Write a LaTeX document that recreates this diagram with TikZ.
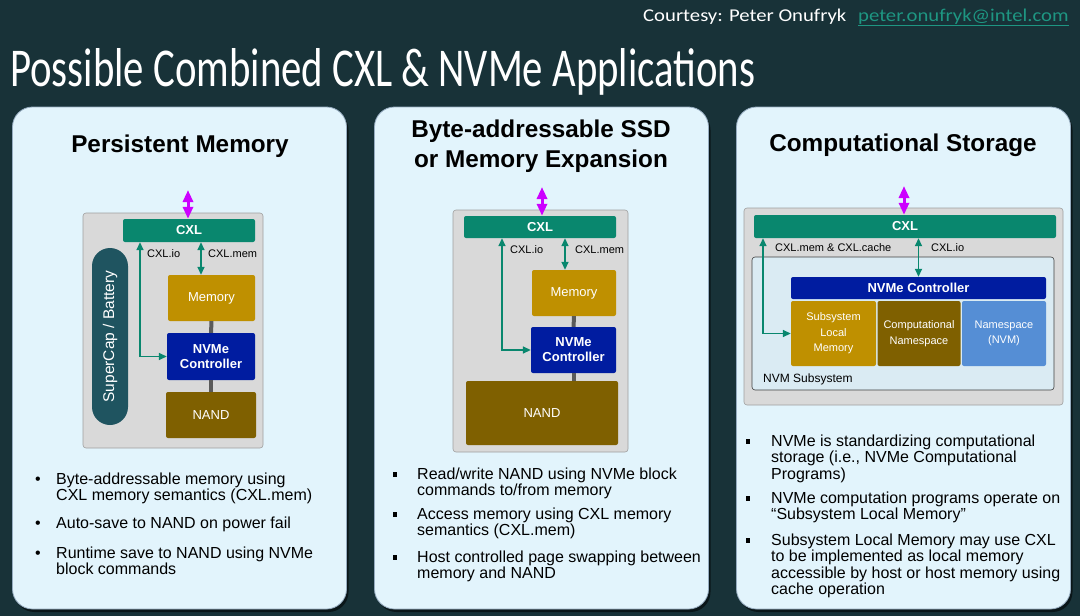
\documentclass[tikz,border=0pt]{standalone}
\usepackage{graphicx}
\usepackage{fontspec}
\setmainfont{Liberation Sans}
\newfontfamily\slidefont{Carlito}
\usetikzlibrary{arrows.meta,shadows}

\definecolor{bgdark}{RGB}{24,50,56}
\definecolor{panelfill}{RGB}{226,244,252}
\definecolor{panelline}{RGB}{150,172,192}
\definecolor{boxgray}{RGB}{217,217,217}
\definecolor{boxline}{RGB}{160,160,160}
\definecolor{cxlteal}{RGB}{9,135,110}
\definecolor{hostpink}{RGB}{204,0,255}
\definecolor{capteal}{RGB}{31,84,96}
\definecolor{memgold}{RGB}{191,144,0}
\definecolor{nvmeblue}{RGB}{0,28,160}
\definecolor{nandbrown}{RGB}{127,96,0}
\definecolor{nsblue}{RGB}{85,142,213}
\definecolor{linkgray}{RGB}{90,90,90}
\definecolor{subfill}{RGB}{218,235,243}
\definecolor{mailteal}{RGB}{30,150,130}

\tikzset{
          blk/.style={rectangle, rounded corners=2pt, inner sep=0pt, text=white, align=center},
          lbl/.style={inner sep=0pt, anchor=base west, font=\fontsize{11}{13}\selectfont}
        }

\begin{document}
\begin{tikzpicture}[x=1pt, y=-1pt,
        panel/.style={rectangle, rounded corners=20pt, fill=panelfill, draw=panelline, line width=0.8pt,
          inner sep=0pt, minimum width=334pt, minimum height=502pt,
          drop shadow={shadow xshift=2pt, shadow yshift=-3pt, opacity=.55, fill=black}},
        frame/.style={rectangle, rounded corners=3pt, fill=boxgray, draw=boxline, line width=0.6pt, inner sep=0pt},
        ptitle/.style={inner sep=0pt, anchor=base, align=center, font=\bfseries\fontsize{24.3}{30}\selectfont},
        bfont/.style={font=\bfseries\fontsize{13}{15}\selectfont},
        nfont/.style={font=\fontsize{13}{15}\selectfont},
        link/.style={draw=linkgray, line width=4pt},
        arr/.style={draw=cxlteal, line width=1.6pt, {Triangle[length=8pt,width=7pt]}-{Triangle[length=8pt,width=7pt]}},
        host/.style={draw=hostpink, line width=3pt, {Triangle[length=12pt,width=10pt]}-{Triangle[length=12pt,width=10pt]}},
        item/.style={inner sep=0pt, anchor=base west, align=left, font=\fontsize{16}{16.5}\selectfont},
        dotb/.style={inner sep=0pt, anchor=base, font=\fontsize{16}{17}\selectfont}
      ]

  \fill[bgdark] (0,0) rectangle (1080,616);
  \useasboundingbox (0,0) rectangle (1080,616);

  \node[anchor=base west, inner sep=0pt, text=white] (court) at (643,21)
    {\scalebox{1.15}[1]{\slidefont\fontsize{18}{20}\selectfont Courtesy: Peter Onufryk}};
  \node[anchor=base west, inner sep=0pt, text=mailteal] (mail) at (858,21)
    {\scalebox{1.15}[1]{\slidefont\fontsize{18}{20}\selectfont\underline{peter.onufryk@intel.com}}};
  \node[anchor=base west, inner sep=0pt, text=white] (title) at (10,86)
    {\resizebox{745pt}{38pt}{\slidefont Possible Combined CXL \& NVMe Applications}};

  \node[panel] (panA) at (179.5,358) {};
  \node[panel] (panB) at (541.5,358) {};
  \node[panel] (panC) at (903.5,358) {};

  \node[ptitle] (titA) at (180,152) {Persistent Memory};
  \node[ptitle] (titB) at (541,167) {Byte-addressable SSD\\or Memory Expansion};
  \node[ptitle] (titC) at (903,151) {Computational Storage};

  % persistent memory
  \node[frame, minimum width=180pt, minimum height=235pt] (frmA) at (173,330.5) {};
  \node[blk, bfont, fill=cxlteal, minimum width=132pt, minimum height=23pt] (cxlA) at (189,230.5) {CXL};
  \node[blk, rounded corners=18pt, fill=capteal, minimum width=36pt, minimum height=177pt,
        font=\fontsize{15.5}{17}\selectfont] (capA) at (110,336.5) {\rotatebox{90}{SuperCap / Battery}};
  \node[blk, nfont, fill=memgold, minimum width=87pt, minimum height=46pt] (memA) at (211.5,298) {Memory};
  \node[blk, bfont, fill=nvmeblue, minimum width=88pt, minimum height=47pt] (nvmeA) at (211,356.5) {NVMe\\Controller};
  \node[blk, nfont, fill=nandbrown, minimum width=90pt, minimum height=46pt] (nandA) at (211,415) {NAND};
  \draw[link] (memA) -- (nvmeA);
  \draw[link] (nvmeA) -- (nandA);
  \coordinate (hostA) at (188,190);
  \coordinate (ioA) at (140,0);
  \coordinate (mmA) at (201,0);
  \draw[host] (hostA) -- (cxlA.north -| hostA);
  \draw[arr] (cxlA.south -| ioA) |- (nvmeA.west);
  \draw[arr] (cxlA.south -| mmA) -- (memA.north -| mmA);
  \node[lbl] (ioAl) at (147,257) {CXL.io};
  \node[lbl] (mmAl) at (208,257) {CXL.mem};

  % byte-addressable ssd
  \node[frame, minimum width=175pt, minimum height=242pt] (frmB) at (540.5,331) {};
  \node[blk, bfont, fill=cxlteal, minimum width=152pt, minimum height=22pt] (cxlB) at (540,227) {CXL};
  \node[blk, nfont, fill=memgold, minimum width=84pt, minimum height=46pt] (memB) at (574,293) {Memory};
  \node[blk, bfont, fill=nvmeblue, minimum width=85pt, minimum height=46pt] (nvmeB) at (573.5,350) {NVMe\\Controller};
  \node[blk, nfont, fill=nandbrown, minimum width=152pt, minimum height=64pt] (nandB) at (542,413) {NAND};
  \draw[link] (memB) -- (nvmeB);
  \draw[link] (nvmeB) -- (nvmeB |- nandB.north);
  \coordinate (hostB) at (542,187);
  \coordinate (ioB) at (502,0);
  \coordinate (mmB) at (565,0);
  \draw[host] (hostB) -- (cxlB.north -| hostB);
  \draw[arr] (cxlB.south -| ioB) |- (nvmeB.west);
  \draw[arr] (cxlB.south -| mmB) -- (memB.north -| mmB);
  \node[lbl] (ioBl) at (510,253) {CXL.io};
  \node[lbl] (mmBl) at (575,253) {CXL.mem};

  % computational storage
  \node[frame, minimum width=319pt, minimum height=197pt] (frmC) at (903.5,306.5) {};
  \node[blk, bfont, fill=cxlteal, minimum width=302pt, minimum height=23pt] (cxlC) at (905,226.5) {CXL};
  \node[rectangle, rounded corners=3pt, fill=subfill, draw=black!75, line width=0.6pt, inner sep=0pt,
        minimum width=302pt, minimum height=133pt] (subC) at (903,323.5) {};
  \node[lbl, font=\fontsize{12}{14}\selectfont] (subCl) at (763,382) {NVM Subsystem};
  \node[blk, bfont, fill=nvmeblue, minimum width=255pt, minimum height=22pt] (nvmeC) at (918.5,288) {NVMe Controller};
  \node[blk, fill=memgold, minimum width=85pt, minimum height=65pt, font=\fontsize{11}{15.5}\selectfont] (slmC) at (833.5,333.5) {Subsystem\\Local\\Memory};
  \node[blk, fill=nandbrown, minimum width=83pt, minimum height=65pt, font=\fontsize{11}{15.5}\selectfont] (cnsC) at (919,333.5) {Computational\\Namespace};
  \node[blk, fill=nsblue, minimum width=84pt, minimum height=65pt, font=\fontsize{11}{15.5}\selectfont] (nsC) at (1004,333.5) {Namespace\\(NVM)};
  \coordinate (hostC) at (904,186);
  \coordinate (mcC) at (763,0);
  \draw[host] (hostC) -- (cxlC.north -| hostC);
  \draw[arr] (cxlC.south -| mcC) |- (slmC.west);
  \draw[arr] (cxlC.south -| nvmeC.north) -- (nvmeC.north);
  \node[lbl] (mcCl) at (775,251) {CXL.mem \& CXL.cache};
  \node[lbl] (ioCl) at (931,251) {CXL.io};

  % bullets (first and last baseline)
  \foreach \yy/\ly/\txt [count=\i] in {484/500.5/{Byte-addressable memory using\\CXL memory semantics (CXL.mem)},
      528/528/{Auto-save to NAND on power fail}, 558/574.5/{Runtime save to NAND using NVMe\\block commands}} {
    \node[dotb] (da\i) at (38,\yy) {•};
    \node[item] (ta\i) at (56,\ly) {\txt};
  }
  \foreach \yy/\ly/\txt [count=\i] in {479/495.5/{Read/write NAND using NVMe block\\commands to/from memory},
      519/535.5/{Access memory using CXL memory\\semantics (CXL.mem)}, 562/578.5/{Host controlled page swapping between\\memory and NAND}} {
    \node[dotb] (db\i) at (395,\yy) {\rule[2.5pt]{4.5pt}{4.5pt}};
    \node[item] (tb\i) at (417,\ly) {\txt};
  }
  \foreach \yy/\ly/\txt [count=\i] in {446/479/{NVMe is standardizing computational\\storage (i.e., NVMe Computational\\Programs)},
      503/519.5/{NVMe computation programs operate on\\“Subsystem Local Memory”},
      545/594.5/{Subsystem Local Memory may use CXL\\to be implemented as local memory\\accessible by host or host memory using\\cache operation}} {
    \node[dotb] (dc\i) at (748,\yy) {\rule[2.5pt]{4.5pt}{4.5pt}};
    \node[item] (tc\i) at (771,\ly) {\txt};
  }

\end{tikzpicture}
\end{document}
